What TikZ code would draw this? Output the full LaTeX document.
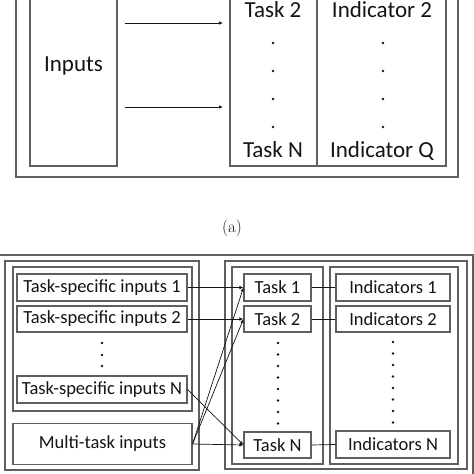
\documentclass[tikz,border=0pt]{standalone}
\usepackage{fontspec}
\newfontfamily\calib{Carlito}
\usepackage{tikz}
\definecolor{boxgray}{RGB}{95,95,95}
\definecolor{inkgray}{RGB}{20,20,20}
\usetikzlibrary{
  arrows.meta,
  positioning,
}
\tikzset{
  >={Latex[length=4pt,width=3.5pt]},
  box/.style={draw=boxgray,line width=1.1pt,rectangle,inner sep=0pt},
  bigtext/.style={font=\calib\fontsize{23}{27}\selectfont,text=inkgray},
  smalltext/.style={font=\calib\fontsize{18.5}{22}\selectfont,text=inkgray},
  wire/.style={draw=inkgray,line width=0.7pt},
}

\begin{document}
\begin{tikzpicture}[x=1pt,y=-1pt]
        \useasboundingbox (0,0) rectangle (474,474);
        \clip (0,0) rectangle (474,474);

        % (a) single-task layout
        \node[box,minimum width=442,minimum height=217]    (frameA) at (237,68.5)       {};
        \node[box,bigtext,minimum width=87,minimum height=200]    (inputs) at (73.5,66)       {Inputs};
        \node[box,minimum width=87,minimum height=200]    (tasks) at (273.5,66)       {};
        \node[box,minimum width=129,minimum height=200]    (indicators) at (381.5,66)       {};
        \node[bigtext,anchor=base]    (task2) at (273,17.5)       {Task 2};
        \node[bigtext,anchor=base]    (taskN) at (273,157)       {Task N};
        \node[bigtext,anchor=base]    (ind2) at (382,17.5)       {Indicator 2};
        \node[bigtext,anchor=base]    (indQ) at (382,157)       {Indicator Q};
        \foreach \y in {43,71,99,127} {
            \fill[inkgray] (273,\y) circle (1.4pt);
            \fill[inkgray] (383,\y) circle (1.4pt);
        }
        \coordinate (srcA1) at (125,23);
        \coordinate (dstA1) at (223,23);
        \coordinate (srcA2) at (125,107);
        \coordinate (dstA2) at (223,107);
        \draw[wire,->] (srcA1) -- (dstA1);
        \draw[wire,->] (srcA2) -- (dstA2);

        \node[font=\fontsize{17}{20}\selectfont,text=inkgray]    (capA) at (232,228)       {(a)};

        % (b) multi-task layout
        \node[box,minimum width=475,minimum height=222]    (frameB) at (235.5,366)       {};
        \node[box,minimum width=194,minimum height=209]    (inpanel) at (102,365.5)       {};
        \node[box,minimum width=179,minimum height=144]    (tsgroup) at (102.5,339)       {};
        \node[box,smalltext,minimum width=170,minimum height=27]    (tsi1) at (102,287.5)       {Task-specific inputs 1};
        \node[box,smalltext,minimum width=170,minimum height=26]    (tsi2) at (102,319)       {Task-specific inputs 2};
        \node[box,smalltext,minimum width=170,minimum height=27]    (tsiN) at (102,389.5)       {Task-specific inputs N};
        \foreach \y in {343,355,366}
            \fill[inkgray] (102,\y) circle (1.3pt);
        \node[box,smalltext,minimum width=179,minimum height=41]    (multi) at (102.5,444)       {Multi-task inputs};

        \node[box,minimum width=242,minimum height=208]    (outpanel) at (346,365)       {};
        \node[box,minimum width=91,minimum height=197]    (taskcol) at (277.5,365.5)       {};
        \node[box,minimum width=128,minimum height=197]    (indcol) at (394,365.5)       {};
        \node[box,smalltext,minimum width=67,minimum height=27]    (task1) at (277.5,287.5)       {Task 1};
        \node[box,smalltext,minimum width=67,minimum height=26]    (task2b) at (277.5,319)       {Task 2};
        \node[box,smalltext,minimum width=67,minimum height=26]    (taskNb) at (277.5,445)       {Task N};
        \node[box,smalltext,minimum width=114,minimum height=27]    (indi1) at (393,287.5)       {Indicators 1};
        \node[box,smalltext,minimum width=114,minimum height=26]    (indi2) at (393,319)       {Indicators 2};
        \node[box,smalltext,minimum width=114,minimum height=27]    (indiN) at (393,444.5)       {Indicators N};
        \foreach \i in {0,...,7} {
            \fill[inkgray] (278,343+\i*11.5) circle (1.3pt);
            \fill[inkgray] (393,342+\i*11.5) circle (1.3pt);
        }

        \draw[wire,->] (tsi1.east) -- (task1.west);
        \draw[wire,->] (tsi2.east) -- (task2b.west);
        \draw[wire,->] (tsiN.east) -- (taskNb.west);
        \draw[wire,->] (multi.east) -- (task1.west);
        \draw[wire,->] (multi.east) -- (task2b.west);
        \draw[wire,->] (multi.east) -- (taskNb.west);
        \draw[wire] (task1.east) -- (indi1.west);
        \draw[wire] (task2b.east) -- (indi2.west);
        \draw[wire] (taskNb.east) -- (indiN.west);

    \end{tikzpicture}
\end{document}
